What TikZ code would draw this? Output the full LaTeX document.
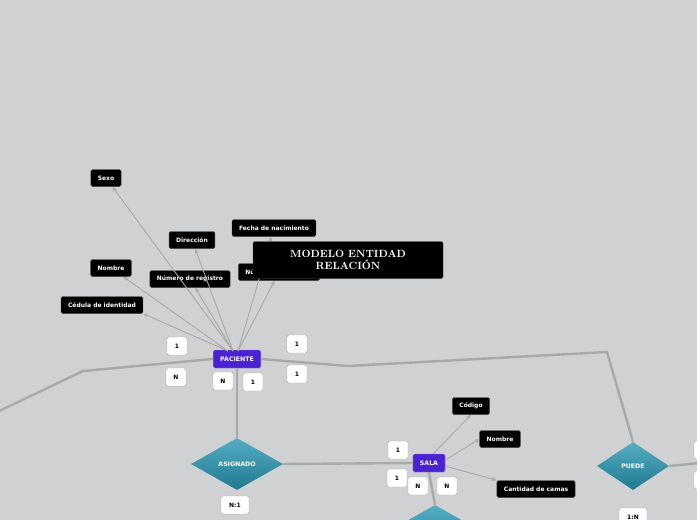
\documentclass[tikz,border=0pt]{standalone}
\usepackage{fontspec}
\setsansfont{DejaVu Sans}
\usetikzlibrary{shapes.geometric,arrows.meta}
\definecolor{bg}{HTML}{D0D1D3}
\definecolor{ent}{HTML}{4A22D0}
\definecolor{dia}{HTML}{2A98B4}
\definecolor{ln}{HTML}{A9A9A9}
\tikzset{
 attr/.style={fill=black,draw=gray!60!black,rounded corners=1.5pt,text=white,font=\sffamily\bfseries\fontsize{6}{7}\selectfont,minimum height=17pt,inner xsep=7pt},
 entb/.style={fill=ent,draw=ent!60!white,rounded corners=1.5pt,text=white,font=\sffamily\bfseries\fontsize{6.2}{7}\selectfont,minimum height=18pt,inner xsep=7pt},
 lab/.style={fill=white,draw=gray!70,rounded corners=2pt,font=\sffamily\bfseries\fontsize{6}{7}\selectfont,minimum width=20pt,minimum height=18pt,inner sep=1pt},
 rel/.style={diamond,aspect=1.8,top color=dia!80!white,bottom color=dia!80!black,text=white,font=\sffamily\bfseries\fontsize{6.2}{7}\selectfont,minimum width=92pt,minimum height=52pt,inner sep=0pt},
 thick line/.style={draw=ln,line width=2.4pt},
 arr/.style={draw=ln,line width=0.9pt,-{Stealth[length=5pt,width=4pt]}}
}
\begin{document}
\begin{tikzpicture}[x=1pt,y=-1pt]
\fill[bg] (0,0) rectangle (697,520);
\useasboundingbox (0,0) rectangle (697,520);
\begin{scope}
\clip (0,0) rectangle (697,520);
\node[entb] (pac) at (237,359) {PACIENTE};
\node[entb] (sala) at (429,463) {SALA};
\node[rel] (asig) at (237,464) {ASIGNADO};
\node[rel,minimum width=72pt,minimum height=48pt,aspect=1.5] (puede) at (633,466) {PUEDE};
\node[rel] (rel3) at (435,531) {};
\coordinate (l1) at (83,371);
\coordinate (l0) at (-5,413);
\coordinate (r1) at (348,366);
\coordinate (r2) at (607,352);
\coordinate (re) at (700,463);
\draw[thick line] (pac.west) -- (l1) -- (l0);
\draw[thick line] (pac.east) -- (r1) -- (r2) -- (puede.north);
\draw[thick line] (puede.east) -- (re);
\draw[thick line] (pac.south) -- (asig.north);
\draw[thick line] (asig.east) -- (sala.west);
\draw[thick line] (sala.south) -- (rel3.north);
\node[attr] (sexo) at (106,178) {Sexo};
\node[attr] (dir) at (192,240) {Dirección};
\node[attr] (fec) at (274,228) {Fecha de nacimiento};
\node[attr] (nom) at (111,268) {Nombre};
\node[attr] (nreg) at (190,279) {Número de registro};
\node[attr] (ntel) at (279,272) {Número de teléfono};
\node[attr] (ced) at (102,305) {Cédula de identidad};
\coordinate (p1) at (228,351);
\coordinate (p2) at (233,351);
\coordinate (p3) at (238,351);
\draw[arr] (p1) -- (ced.south east);
\draw[arr] (p1) -- (nom);
\draw[arr] (p2) -- (sexo);
\draw[arr] (p2) -- (nreg);
\draw[arr] (p2) -- (dir);
\draw[arr] (p3) -- (fec);
\draw[arr] (p3) -- (ntel);
\node[fill=black,draw=gray!60!black,rounded corners=2pt,text=white,font=\rmfamily\bfseries\fontsize{10.5}{12}\selectfont,align=center,minimum width=190pt,minimum height=37pt] (title) at (348,260) {MODELO ENTIDAD\\RELACIÓN};
\node[attr] (cod) at (471,406) {Código};
\node[attr] (snom) at (500,439) {Nombre};
\node[attr] (cant) at (536,489) {Cantidad de camas};
\draw[arr] (sala.north east) ++(-12,0) -- (cod.south);
\draw[arr] (sala.east) ++(0,-3) -- (snom.west);
\draw[arr] (sala.east) ++(0,3) -- (cant.north west);
\node[lab] (a1) at (177,346) {1};
\node[lab] (a2) at (176,377) {N};
\node[lab] (a3) at (223,381) {N};
\node[lab] (a4) at (253,382) {1};
\node[lab] (a5) at (297,344) {1};
\node[lab] (a6) at (297,374) {1};
\node[lab] (b1) at (398,450) {1};
\node[lab] (b2) at (397,478) {1};
\node[lab] (b3) at (418,486) {N};
\node[lab] (b4) at (447,486) {N};
\node[lab,minimum width=28pt] (c1) at (235,505) {N:1};
\node[lab,minimum width=28pt] (c2) at (633,517) {1:N};
\node[lab] (d1) at (704,450) {};
\node[lab] (d2) at (704,480) {};
\end{scope}
\end{tikzpicture}
\end{document}
